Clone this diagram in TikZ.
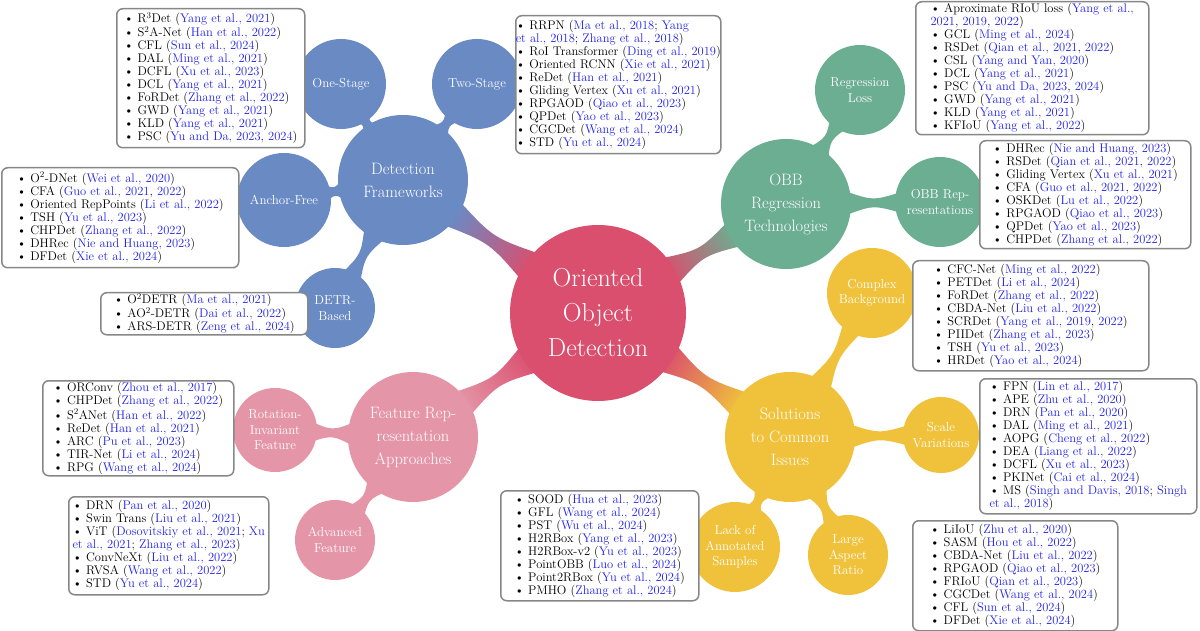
\documentclass[tikz,border=0pt]{standalone}
\usetikzlibrary{calc}
\pgfdeclarelayer{bg}
\pgfsetlayers{bg,main}
\definecolor{cblue}{RGB}{106,138,196}
\definecolor{cgreen}{RGB}{108,174,145}
\definecolor{cpink}{RGB}{228,150,168}
\definecolor{cyellow}{RGB}{240,194,60}
\definecolor{cred}{RGB}{218,78,110}
\definecolor{citeblue}{RGB}{35,35,235}
\definecolor{boxgray}{RGB}{135,135,135}
\newcommand{\cb}[1]{\textcolor{citeblue}{#1}}
\newcommand{\itm}{\textbullet\ }
\newcommand{\mmlink}[8]{%
  \path ($(#1)!#3!(#2)$) coordinate (sA) ($(#2)!#4!(#1)$) coordinate (sB);
  \path ($(sA)!0.5!(sB)$) coordinate (sM);
  \path[#8] ($(sA)!#5!90:(sB)$) .. controls ($(sM)!#7!90:(sB)$) .. ($(sB)!#6!-90:(sA)$)
    -- ($(sB)!#6!90:(sA)$) .. controls ($(sM)!#7!-90:(sB)$) .. ($(sA)!#5!-90:(sB)$) -- cycle;
}
\tikzset{
  boxnode/.style={draw=boxgray, line width=1.5pt, rounded corners=6pt, fill=white, anchor=north west, align=left, inner sep=0pt, font=\fontsize{12.5}{13}\selectfont},
  maincircle/.style={circle, fill=cred, text=white, inner sep=0pt, minimum size=176pt, align=center, font=\fontsize{26}{35}\selectfont},
  catcircle/.style={circle, inner sep=0pt, minimum size=130pt, text=white, align=center, font=\fontsize{16.5}{23}\selectfont},
  subcircle/.style={circle, inner sep=0pt, text=white, align=center, font=\fontsize{13}{15.5}\selectfont},
}
\begin{document}
\begin{tikzpicture}[x=1pt,y=-1pt]
\useasboundingbox (0,0) rectangle (1200,631);
% main and category circles
\node[maincircle] (C) at (598,313) {Oriented\\Object\\Detection};
\node[catcircle, fill=cblue] (DF) at (403,180) {Detection\\Frameworks};
\node[catcircle, fill=cgreen] (OBB) at (786,204) {OBB\\Regression\\Technologies};
\node[catcircle, fill=cpink] (FR) at (413,437) {Feature Rep-\\resentation\\Approaches};
\node[catcircle, fill=cyellow] (SOL) at (790,437) {Solutions\\to Common\\Issues};
% sub circles
\node[subcircle, fill=cblue, minimum size=90pt] (OS) at (341,84) {One-Stage};
\node[subcircle, fill=cblue, minimum size=90pt] (TS) at (477,84) {Two-Stage};
\node[subcircle, fill=cblue, minimum size=94pt] (AF) at (284,200) {Anchor-Free};
\node[subcircle, fill=cblue, minimum size=80pt] (DB) at (335,308) {DETR-\\Based};
\node[subcircle, fill=cgreen, minimum size=90pt] (RL) at (860,90) {Regression\\Loss};
\node[subcircle, fill=cgreen, minimum size=90pt] (OR) at (940,202) {OBB Rep-\\resentations};
\node[subcircle, fill=cyellow, minimum size=90pt] (CB) at (872,293) {Complex\\Background};
\node[subcircle, fill=cyellow, minimum size=76pt] (SV) at (941,435) {Scale\\Variations};
\node[subcircle, fill=cyellow, minimum size=90pt] (LA) at (735,547) {Lack of\\Annotated\\Samples};
\node[subcircle, fill=cyellow, minimum size=80pt] (LR) at (848,555) {Large\\Aspect\\Ratio};
\node[subcircle, fill=cpink, minimum size=84pt] (RI) at (275,430) {Rotation-\\Invariant\\Feature};
\node[subcircle, fill=cpink, minimum size=80pt] (AV) at (335,540) {Advanced\\Feature};
% links
\begin{pgfonlayer}{bg}
\mmlink{C}{DF}{78pt}{56pt}{17pt}{15pt}{3pt}{top color=cred, bottom color=cblue, shading angle=-124.3}
\mmlink{C}{OBB}{78pt}{56pt}{17pt}{15pt}{3pt}{top color=cred, bottom color=cgreen, shading angle=120.1}
\mmlink{C}{FR}{78pt}{56pt}{17pt}{15pt}{3pt}{top color=cred, bottom color=cpink, shading angle=-56.2}
\mmlink{C}{SOL}{78pt}{56pt}{17pt}{15pt}{3pt}{top color=cred, bottom color=cyellow, shading angle=57.1}
\mmlink{DF}{OS}{57pt}{37pt}{13pt}{11pt}{2pt}{fill=cblue}
\mmlink{DF}{TS}{57pt}{37pt}{13pt}{11pt}{2pt}{fill=cblue}
\mmlink{DF}{AF}{57pt}{39pt}{13pt}{11pt}{2pt}{fill=cblue}
\mmlink{DF}{DB}{57pt}{32pt}{13pt}{11pt}{2pt}{fill=cblue}
\mmlink{OBB}{RL}{57pt}{37pt}{13pt}{11pt}{2pt}{fill=cgreen}
\mmlink{OBB}{OR}{57pt}{37pt}{13pt}{11pt}{2pt}{fill=cgreen}
\mmlink{FR}{RI}{57pt}{34pt}{13pt}{11pt}{2pt}{fill=cpink}
\mmlink{FR}{AV}{57pt}{32pt}{13pt}{11pt}{2pt}{fill=cpink}
\mmlink{SOL}{CB}{57pt}{37pt}{13pt}{11pt}{2pt}{fill=cyellow}
\mmlink{SOL}{SV}{57pt}{30pt}{13pt}{11pt}{2pt}{fill=cyellow}
\mmlink{SOL}{LA}{57pt}{37pt}{13pt}{11pt}{2pt}{fill=cyellow}
\mmlink{SOL}{LR}{57pt}{32pt}{13pt}{11pt}{2pt}{fill=cyellow}
\end{pgfonlayer}
% boxes
\node[boxnode, minimum width=188pt, minimum height=139pt] (b1) at (116,8) {%
\itm R\textsuperscript{3}Det (\cb{Yang et al., 2021})\\
\itm S\textsuperscript{2}A-Net (\cb{Han et al., 2022})\\
\itm CFL (\cb{Sun et al., 2024})\\
\itm DAL (\cb{Ming et al., 2021})\\
\itm DCFL (\cb{Xu et al., 2023})\\
\itm DCL (\cb{Yang et al., 2021})\\
\itm FoRDet (\cb{Zhang et al., 2022})\\
\itm GWD (\cb{Yang et al., 2021})\\
\itm KLD (\cb{Yang et al., 2021})\\
\itm PSC (\cb{Yu and Da, 2023}, \cb{2024})};
\node[boxnode, minimum width=193pt, minimum height=138pt] (b2) at (515,15) {%
\itm RRPN (\cb{Ma et al., 2018}; \cb{Yang}\\
\cb{et al., 2018}; \cb{Zhang et al., 2018})\\
\itm RoI Transformer (\cb{Ding et al., 2019})\\
\itm Oriented RCNN (\cb{Xie et al., 2021})\\
\itm ReDet (\cb{Han et al., 2021})\\
\itm Gliding Vertex (\cb{Xu et al., 2021})\\
\itm RPGAOD (\cb{Qiao et al., 2023})\\
\itm QPDet (\cb{Yao et al., 2023})\\
\itm CGCDet (\cb{Wang et al., 2024})\\
\itm STD (\cb{Yu et al., 2024})};
\node[boxnode, minimum width=233pt, minimum height=133pt] (b3) at (915,1) {%
\itm Aproximate RIoU loss (\cb{Yang et al.,}\\
\cb{2021}, \cb{2019}, \cb{2022})\\
\itm GCL (\cb{Ming et al., 2024})\\
\itm RSDet (\cb{Qian et al., 2021}, \cb{2022})\\
\itm CSL (\cb{Yang and Yan, 2020})\\
\itm DCL (\cb{Yang et al., 2021})\\
\itm PSC (\cb{Yu and Da, 2023}, \cb{2024})\\
\itm GWD (\cb{Yang et al., 2021})\\
\itm KLD (\cb{Yang et al., 2021})\\
\itm KFIoU (\cb{Yang et al., 2022})};
\node[boxnode, minimum width=211pt, minimum height=108pt] (b4) at (979,140) {%
\itm DHRec (\cb{Nie and Huang, 2023})\\
\itm RSDet (\cb{Qian et al., 2021}, \cb{2022})\\
\itm Gliding Vertex (\cb{Xu et al., 2021})\\
\itm CFA (\cb{Guo et al., 2021}, \cb{2022})\\
\itm OSKDet (\cb{Lu et al., 2022})\\
\itm RPGAOD (\cb{Qiao et al., 2023})\\
\itm QPDet (\cb{Yao et al., 2023})\\
\itm CHPDet (\cb{Zhang et al., 2022})};
\node[boxnode, minimum width=237pt, minimum height=100pt] (b5) at (1,167) {%
\itm O\textsuperscript{2}-DNet (\cb{Wei et al., 2020})\\
\itm CFA (\cb{Guo et al., 2021}, \cb{2022})\\
\itm Oriented RepPoints (\cb{Li et al., 2022})\\
\itm TSH (\cb{Yu et al., 2023})\\
\itm CHPDet (\cb{Zhang et al., 2022})\\
\itm DHRec (\cb{Nie and Huang, 2023})\\
\itm DFDet (\cb{Xie et al., 2024})};
\node[boxnode, minimum width=207pt, minimum height=42pt] (b6) at (100,292) {%
\itm O\textsuperscript{2}DETR (\cb{Ma et al., 2021})\\
\itm AO\textsuperscript{2}-DETR (\cb{Dai et al., 2022})\\
\itm ARS-DETR (\cb{Zeng et al., 2024})};
\node[boxnode, minimum width=236pt, minimum height=110pt] (b7) at (912,260) {%
\itm CFC-Net (\cb{Ming et al., 2022})\\
\itm PETDet (\cb{Li et al., 2024})\\
\itm FoRDet (\cb{Zhang et al., 2022})\\
\itm CBDA-Net (\cb{Liu et al., 2022})\\
\itm SCRDet (\cb{Yang et al., 2019}, \cb{2022})\\
\itm PIIDet (\cb{Zhang et al., 2023})\\
\itm TSH (\cb{Yu et al., 2023})\\
\itm HRDet (\cb{Yao et al., 2024})};
\node[boxnode, minimum width=217pt, minimum height=135pt] (b8) at (979,378) {%
\itm FPN (\cb{Lin et al., 2017})\\
\itm APE (\cb{Zhu et al., 2020})\\
\itm DRN (\cb{Pan et al., 2020})\\
\itm DAL (\cb{Ming et al., 2021})\\
\itm AOPG (\cb{Cheng et al., 2022})\\
\itm DEA (\cb{Liang et al., 2022})\\
\itm DCFL (\cb{Xu et al., 2023})\\
\itm PKINet (\cb{Cai et al., 2024})\\
\itm MS (\cb{Singh and Davis, 2018}; \cb{Singh}\\
\cb{et al., 2018})};
\node[boxnode, minimum width=191pt, minimum height=95pt] (b9) at (42,380) {%
\itm ORConv (\cb{Zhou et al., 2017})\\
\itm CHPDet (\cb{Zhang et al., 2022})\\
\itm S\textsuperscript{2}ANet (\cb{Han et al., 2022})\\
\itm ReDet (\cb{Han et al., 2021})\\
\itm ARC (\cb{Pu et al., 2023})\\
\itm TIR-Net (\cb{Li et al., 2024})\\
\itm RPG (\cb{Wang et al., 2024})};
\node[boxnode, minimum width=200pt, minimum height=98pt] (b10) at (68,496) {%
\itm DRN (\cb{Pan et al., 2020})\\
\itm Swin Trans (\cb{Liu et al., 2021})\\
\itm ViT (\cb{Dosovitskiy et al., 2021}; \cb{Xu}\\
\cb{et al., 2021}; \cb{Zhang et al., 2023})\\
\itm ConvNeXt (\cb{Liu et al., 2022})\\
\itm RVSA (\cb{Wang et al., 2022})\\
\itm STD (\cb{Yu et al., 2024})};
\node[boxnode, minimum width=198pt, minimum height=110pt] (b11) at (500,490) {%
\itm SOOD (\cb{Hua et al., 2023})\\
\itm GFL (\cb{Wang et al., 2024})\\
\itm PST (\cb{Wu et al., 2024})\\
\itm H2RBox (\cb{Yang et al., 2023})\\
\itm H2RBox-v2 (\cb{Yu et al., 2023})\\
\itm PointOBB (\cb{Luo et al., 2024})\\
\itm Point2RBox (\cb{Yu et al., 2024})\\
\itm PMHO (\cb{Zhang et al., 2024})};
\node[boxnode, minimum width=205pt, minimum height=110pt] (b12) at (912,520) {%
\itm LiIoU (\cb{Zhu et al., 2020})\\
\itm SASM (\cb{Hou et al., 2022})\\
\itm CBDA-Net (\cb{Liu et al., 2022})\\
\itm RPGAOD (\cb{Qiao et al., 2023})\\
\itm FRIoU (\cb{Qian et al., 2023})\\
\itm CGCDet (\cb{Wang et al., 2024})\\
\itm CFL (\cb{Sun et al., 2024})\\
\itm DFDet (\cb{Xie et al., 2024})};
\end{tikzpicture}
\end{document}
